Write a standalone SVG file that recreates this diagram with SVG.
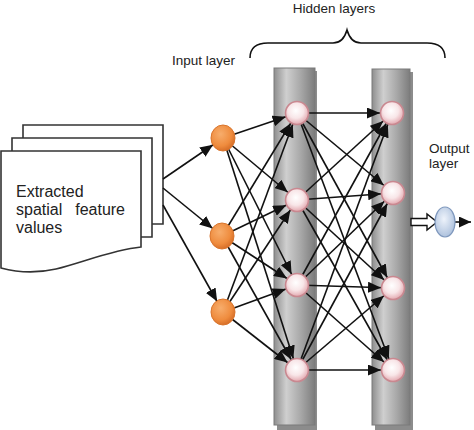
<svg xmlns="http://www.w3.org/2000/svg" width="474" height="430" viewBox="0 0 474 430">
<style>
text{font-family:"Liberation Sans",Arial,sans-serif;fill:#222}
.doc{fill:#fff;stroke:#333;stroke-width:1.6}
.edge{stroke:#111;stroke-width:1.6;fill:none;marker-end:url(#ah)}
.pk{fill:url(#gpink);stroke:#c98890;stroke-width:1.6}
.or{fill:url(#gor);stroke:#d9752d;stroke-width:1}
.pil{fill:url(#gpil);stroke:#7a7a7a;stroke-width:1}
.sh{fill:#8c8c8c}
</style>
<defs>
<marker id="ah" markerUnits="userSpaceOnUse" markerWidth="28" markerHeight="11" refX="25" refY="5.5" orient="auto">
<path d="M0,0 L13,5.5 L0,11 Z" fill="#111"/>
</marker>
<marker id="ah2" markerUnits="userSpaceOnUse" markerWidth="13" markerHeight="11" refX="12" refY="5.5" orient="auto">
<path d="M0,0 L12,5.5 L0,11 Z" fill="#111"/>
</marker>
<linearGradient id="gpil" x1="0" y1="0" x2="1" y2="0">
<stop offset="0" stop-color="#8e8e8e"/>
<stop offset="0.3" stop-color="#cfcfcf"/>
<stop offset="0.65" stop-color="#a8a8a8"/>
<stop offset="1" stop-color="#7c7c7c"/>
</linearGradient>
<radialGradient id="gpink" cx="0.45" cy="0.4" r="0.6">
<stop offset="0" stop-color="#ffffff"/>
<stop offset="0.55" stop-color="#f8e6e8"/>
<stop offset="1" stop-color="#e3a9b0"/>
</radialGradient>
<radialGradient id="gor" cx="0.4" cy="0.35" r="0.65">
<stop offset="0" stop-color="#f7ad6c"/>
<stop offset="0.7" stop-color="#ef8c3e"/>
<stop offset="1" stop-color="#d8702a"/>
</radialGradient>
<radialGradient id="gout" cx="0.45" cy="0.4" r="0.65">
<stop offset="0" stop-color="#eef3fb"/>
<stop offset="1" stop-color="#a9bedb"/>
</radialGradient>
</defs>

<g id="labels">
<text x="334" y="13" font-size="13.5" text-anchor="middle">Hidden layers</text>
<text x="172" y="65" font-size="13.5">Input layer</text>
<text x="429" y="153" font-size="13.5">Output</text>
<text x="429" y="168" font-size="13.5">layer</text>
<path d="M250,58 C250,48 256,43 268,43 L333,43 C341,43 345,37 347,30 C349,37 353,43 361,43 L427,43 C439,43 445,48 445,58" fill="none" stroke="#111" stroke-width="1.6"/>
</g>

<g id="documents">
<path class="doc" d="M23,125 H163 V224 H23 Z"/>
<path class="doc" d="M12,138 H152 V237 H12 Z"/>
<path class="doc" d="M1,151 H141 V247 C112,250 84,262 56,269 C34,274 16,272 1,268 Z"/>
<text x="16" y="197" font-size="16">Extracted</text>
<text x="16" y="215" font-size="16">spatial</text>
<text x="125" y="215" font-size="16" text-anchor="end">feature</text>
<text x="16" y="233" font-size="16">values</text>
</g>

<g id="pillars">
<rect class="sh" x="277" y="71" width="40" height="359"/>
<rect class="pil" x="274" y="68" width="41" height="357"/>
<rect class="sh" x="375" y="72" width="38" height="358"/>
<rect class="pil" x="372" y="69" width="38" height="356"/>
</g>

<g id="connectors">
<line class="edge" x1="163" y1="179" x2="223" y2="138"/>
<line class="edge" x1="163" y1="188" x2="222" y2="236"/>
<line class="edge" x1="163" y1="205" x2="223" y2="312"/>

<line class="edge" x1="223" y1="138" x2="297" y2="113"/>
<line class="edge" x1="223" y1="138" x2="297" y2="200"/>
<line class="edge" x1="223" y1="138" x2="297" y2="285"/>
<line class="edge" x1="223" y1="138" x2="297" y2="370"/>
<line class="edge" x1="222" y1="236" x2="297" y2="113"/>
<line class="edge" x1="222" y1="236" x2="297" y2="200"/>
<line class="edge" x1="222" y1="236" x2="297" y2="285"/>
<line class="edge" x1="222" y1="236" x2="297" y2="370"/>
<line class="edge" x1="223" y1="312" x2="297" y2="113"/>
<line class="edge" x1="223" y1="312" x2="297" y2="200"/>
<line class="edge" x1="223" y1="312" x2="297" y2="285"/>
<line class="edge" x1="223" y1="312" x2="297" y2="370"/>

<line class="edge" x1="297" y1="113" x2="392" y2="113"/>
<line class="edge" x1="297" y1="113" x2="393" y2="193"/>
<line class="edge" x1="297" y1="113" x2="393" y2="288"/>
<line class="edge" x1="297" y1="113" x2="393" y2="370"/>
<line class="edge" x1="297" y1="200" x2="392" y2="113"/>
<line class="edge" x1="297" y1="200" x2="393" y2="193"/>
<line class="edge" x1="297" y1="200" x2="393" y2="288"/>
<line class="edge" x1="297" y1="200" x2="393" y2="370"/>
<line class="edge" x1="297" y1="285" x2="392" y2="113"/>
<line class="edge" x1="297" y1="285" x2="393" y2="193"/>
<line class="edge" x1="297" y1="285" x2="393" y2="288"/>
<line class="edge" x1="297" y1="285" x2="393" y2="370"/>
<line class="edge" x1="297" y1="370" x2="392" y2="113"/>
<line class="edge" x1="297" y1="370" x2="393" y2="193"/>
<line class="edge" x1="297" y1="370" x2="393" y2="288"/>
<line class="edge" x1="297" y1="370" x2="393" y2="370"/>

<path d="M411,218.5 H427 V214 L437,222 L427,230 V225.5 H411 Z" fill="#fff" stroke="#111" stroke-width="1.4"/>
<line x1="455" y1="222" x2="471" y2="222" stroke="#111" stroke-width="1.6" marker-end="url(#ah2)"/>
</g>

<g id="input-nodes">
<ellipse id="in1" class="or" cx="223" cy="138" rx="12" ry="13"/>
<ellipse id="in2" class="or" cx="222" cy="236" rx="12" ry="13"/>
<ellipse id="in3" class="or" cx="223" cy="312" rx="12" ry="13"/>
</g>

<g id="hidden-layer-1">
<circle id="h1a" class="pk" cx="297" cy="113" r="11.5"/>
<circle id="h1b" class="pk" cx="297" cy="200" r="11.5"/>
<circle id="h1c" class="pk" cx="297" cy="285" r="11.5"/>
<circle id="h1d" class="pk" cx="297" cy="370" r="11.5"/>
</g>

<g id="hidden-layer-2">
<circle id="h2a" class="pk" cx="392" cy="113" r="11.5"/>
<circle id="h2b" class="pk" cx="393" cy="193" r="11.5"/>
<circle id="h2c" class="pk" cx="393" cy="288" r="11.5"/>
<circle id="h2d" class="pk" cx="393" cy="370" r="11.5"/>
</g>

<g id="output-node">
<ellipse cx="445" cy="222" rx="10" ry="15" fill="url(#gout)" stroke="#7f98bd" stroke-width="1.2"/>
</g>
</svg>
